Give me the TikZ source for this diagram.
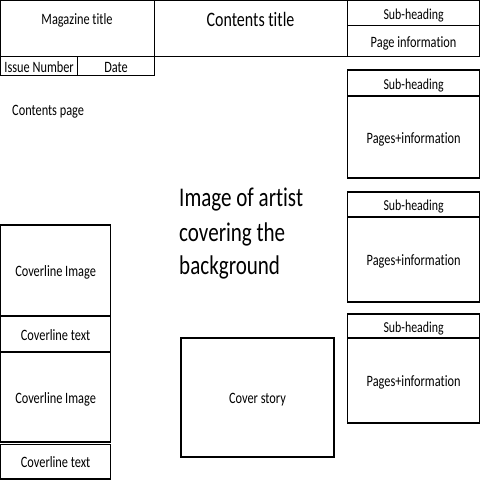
\documentclass[tikz,border=0pt]{standalone}
\usepackage{fontspec}
\setmainfont{Carlito}[FakeStretch=0.78, Ligatures=NoCommon]
\tikzset{
	box/.style={draw, line width=1.3pt, inner sep=0pt, outer sep=0pt, anchor=north west,
		text height=13pt, text depth=1pt, font=\fontsize{15.8}{17}\selectfont},
	label/.style={inner sep=0pt, font=\fontsize{15.8}{17}\selectfont},
	subhead/.style={box, font=\fontsize{15.2}{17}\selectfont},
	bigtext/.style={inner sep=0pt, anchor=base west, font=\fontsize{27}{30}\selectfont}
}
\begin{document}
\begin{tikzpicture}[x=1pt,y=-1pt]
	\useasboundingbox (0,0) rectangle (480,480);
	
	% top bar
	\node[box, minimum width=154pt, minimum height=56pt] (mag) at (0.6,0.6) {};
	\node[label, anchor=base] (magtext) at (77,24) {Magazine title};
	\node[box, minimum width=193pt, minimum height=56pt] (ctitle) at (mag.north east) {};
	\node[label, anchor=base, font=\fontsize{20.5}{22}\selectfont] (ctitletext) at (250.5,26) {Contents title};
	\node[subhead, minimum width=132pt, minimum height=25pt] (sub1) at (ctitle.north east) {Sub-heading};
	\node[box, minimum width=132pt, minimum height=31pt] (info1) at (sub1.south west) {Page information};
	\node[box, minimum width=77pt, minimum height=19pt] (issue) at (mag.south west) {Issue Number};
	\node[box, minimum width=77pt, minimum height=19pt] (date) at (issue.north east) {Date};
	
	\node[label, anchor=base west] (cpage) at (12,115) {Contents page};
	
	% right column
	\node[subhead, minimum width=132pt, minimum height=26pt] (sub2) at (347.6,70) {Sub-heading};
	\node[box, minimum width=132pt, minimum height=82pt] (pinfo2) at (sub2.south west) {Pages+information};
	\node[subhead, minimum width=132pt, minimum height=25pt] (sub3) at (347.6,192) {Sub-heading};
	\node[box, minimum width=132pt, minimum height=85pt] (pinfo3) at (sub3.south west) {Pages+information};
	\node[subhead, minimum width=132pt, minimum height=24pt] (sub4) at (347.6,314) {Sub-heading};
	\node[box, minimum width=132pt, minimum height=85pt] (pinfo4) at (sub4.south west) {Pages+information};
	
	% artist image
	\node[bigtext] (artist1) at (179,206) {Image of artist};
	\node[bigtext] (artist2) at (179,241) {covering the};
	\node[bigtext] (artist3) at (179,274) {background};
	
	\node[box, minimum width=153pt, minimum height=119pt] (cover) at (181,338) {Cover story};
	
	% left column
	\node[box, minimum width=110pt, minimum height=91pt] (cimg1) at (0.6,225) {Coverline Image};
	\node[box, minimum width=110pt, minimum height=36pt] (ctext1) at (cimg1.south west) {Coverline text};
	\node[box, minimum width=110pt, minimum height=90pt] (cimg2) at (ctext1.south west) {Coverline Image};
	\node[box, minimum width=110pt, minimum height=34.4pt] (ctext2) at ([yshift=-2.5pt]cimg2.south west) {Coverline text};
\end{tikzpicture}
\end{document}
